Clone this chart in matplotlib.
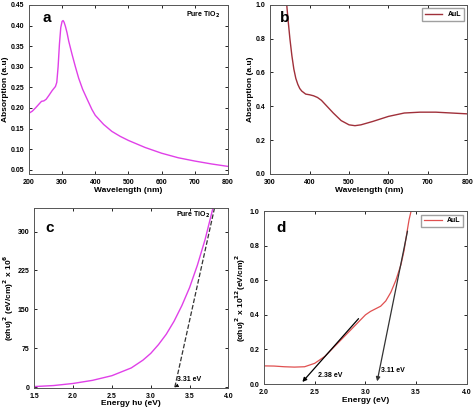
import matplotlib
matplotlib.use("Agg")
import matplotlib.pyplot as plt
import numpy as np

# Panel a: pure TiO2 absorption
wl_a = [200, 210, 220, 230, 238, 245, 252, 260, 270, 280, 284, 288, 292, 296, 300, 303, 306, 310, 315, 320, 330, 340, 350, 362, 375, 390, 400, 425, 450, 475, 500, 550, 600, 650, 700, 750, 800]
abs_a = [0.187, 0.192, 0.200, 0.209, 0.216, 0.217, 0.221, 0.230, 0.242, 0.252, 0.262, 0.300, 0.355, 0.395, 0.410, 0.412, 0.408, 0.398, 0.382, 0.362, 0.330, 0.300, 0.272, 0.245, 0.222, 0.196, 0.182, 0.160, 0.143, 0.131, 0.121, 0.104, 0.090, 0.079, 0.071, 0.064, 0.058]
# Panel b: AuL absorption
wl_b = [342, 345, 350, 355, 360, 365, 370, 375, 380, 390, 400, 410, 420, 430, 440, 460, 480, 500, 515, 530, 560, 600, 640, 680, 720, 760, 800]
abs_b = [1.0, 0.92, 0.80, 0.70, 0.62, 0.565, 0.53, 0.505, 0.49, 0.472, 0.468, 0.462, 0.452, 0.435, 0.41, 0.36, 0.315, 0.29, 0.285, 0.29, 0.31, 0.34, 0.36, 0.365, 0.365, 0.36, 0.355]
# Panel c: Tauc pure TiO2
en_c = [1.5, 1.75, 2.0, 2.25, 2.5, 2.75, 2.9, 3.0, 3.1, 3.2, 3.3, 3.4, 3.5, 3.6, 3.7, 3.8]
tauc_c = [1, 3, 7, 13, 22, 37, 52, 65, 82, 102, 127, 157, 192, 235, 285, 345]
fit_c_x = [3.31, 3.82]
fit_c_y = [0, 345]
# Panel d: Tauc AuL
en_d = [2.0, 2.1, 2.2, 2.3, 2.4, 2.5, 2.6, 2.7, 2.8, 2.9, 2.95, 3.0, 3.05, 3.1, 3.15, 3.2, 3.25, 3.3, 3.35, 3.38, 3.41, 3.43, 3.45]
tauc_d = [0.105, 0.104, 0.1, 0.098, 0.1, 0.12, 0.16, 0.22, 0.28, 0.34, 0.37, 0.40, 0.42, 0.435, 0.45, 0.48, 0.53, 0.6, 0.69, 0.77, 0.88, 0.95, 1.0]
fit_d1_x = [2.95, 2.36]
fit_d1_y = [0.39, 0.0]
fit_d2_x = [3.42, 3.11]
fit_d2_y = [0.9, 0.0]

plt.rcParams['font.family'] = ['Liberation Sans', 'DejaVu Sans']
plt.rcParams['font.weight'] = 'bold'
fs = 5
fig = plt.figure(figsize=(4.74, 4.09), dpi=100)
axa = fig.add_axes([0.061, 0.575, 0.42, 0.413])
axb = fig.add_axes([0.570, 0.575, 0.416, 0.413])
axc = fig.add_axes([0.072, 0.051, 0.41, 0.44])
axd = fig.add_axes([0.557, 0.061, 0.428, 0.423])

def style(ax):
    ax.tick_params(direction='in', top=True, right=True, labelsize=fs, length=2, width=0.6)
    for s in ax.spines.values():
        s.set_color('#555555'); s.set_linewidth(0.7)

mag = '#e040e8'
axa.plot(wl_a, abs_a, color=mag, lw=1)
axa.set_xlim(200, 800); axa.set_ylim(0.04, 0.45)
axa.set_yticks(np.arange(0.05, 0.46, 0.05))
axa.set_xlabel('Wavelength (nm)', fontsize=6, fontweight='bold', labelpad=1)
axa.set_ylabel('Absorption (a.u)', fontsize=6, fontweight='bold', labelpad=1)
axa.text(0.07, 0.9, 'a', transform=axa.transAxes, fontsize=11, fontweight='bold')
axa.text(0.79, 0.93, 'Pure TiO$_2$', transform=axa.transAxes, fontsize=5)
style(axa)

axb.plot(wl_b, abs_b, color='#a0303a', lw=1, label='AuL')
axb.set_xlim(300, 800); axb.set_ylim(0, 1.0)
axb.set_xlabel('Wavelength (nm)', fontsize=6, fontweight='bold', labelpad=1)
axb.set_ylabel('Absorption (a.u)', fontsize=6, fontweight='bold', labelpad=1)
axb.text(0.05, 0.9, 'b', transform=axb.transAxes, fontsize=11, fontweight='bold')
axb.legend(loc='upper right', fontsize=5, handlelength=2.5, fancybox=False, edgecolor='#888888')
style(axb)

axc.plot(en_c, tauc_c, color=mag, lw=1)
axc.plot(fit_c_x, fit_c_y, color='#333333', lw=0.9, ls='--')
axc.set_xlim(1.5, 4.0); axc.set_ylim(-2, 345)
axc.set_yticks([0, 75, 150, 225, 300])
axc.set_xlabel('Energy h\u03c5 (eV)', fontsize=6, fontweight='bold', labelpad=0)
axc.set_ylabel('(\u03b1h\u03c5)$^2$ (eV/cm)$^2$ x 10$^6$', fontsize=6, fontweight='bold', labelpad=1)
axc.text(0.06, 0.87, 'c', transform=axc.transAxes, fontsize=11, fontweight='bold')
axc.text(0.73, 0.95, 'Pure TiO$_2$', transform=axc.transAxes, fontsize=5)
axc.annotate('3.31 eV', xy=(3.31, 0), xytext=(3.34, 12), fontsize=5,
             arrowprops=dict(arrowstyle='-|>', color='black', lw=0.5, mutation_scale=5))
style(axc)

axd.plot(en_d, tauc_d, color='#e05050', lw=0.9, label='AuL')
axd.annotate('', xy=(fit_d1_x[1], fit_d1_y[1]), xytext=(fit_d1_x[0], fit_d1_y[0]),
             arrowprops=dict(arrowstyle='-|>', color='black', lw=0.9, mutation_scale=6))
axd.annotate('', xy=(fit_d2_x[1], fit_d2_y[1]), xytext=(fit_d2_x[0], fit_d2_y[0]),
             arrowprops=dict(arrowstyle='-|>', color='#333333', lw=0.9, mutation_scale=6))
axd.text(2.53, 0.04, '2.38 eV', fontsize=5)
axd.text(3.15, 0.07, '3.11 eV', fontsize=5)
axd.set_xlim(2.0, 4.0); axd.set_ylim(0, 1.0)
axd.set_xticks([2.0, 2.5, 3.0, 3.5, 4.0])
axd.set_xlabel('Energy (eV)', fontsize=6, fontweight='bold', labelpad=1)
axd.set_ylabel('(\u03b1h\u03c5)$^2$ x 10$^{12}$(eV/cm)$^2$', fontsize=6, fontweight='bold', labelpad=1)
axd.text(0.06, 0.88, 'd', transform=axd.transAxes, fontsize=11, fontweight='bold')
axd.legend(loc='upper right', fontsize=5, handlelength=2.5, fancybox=False, edgecolor='#888888')
style(axd)

fig.savefig('out.png', dpi=100)
